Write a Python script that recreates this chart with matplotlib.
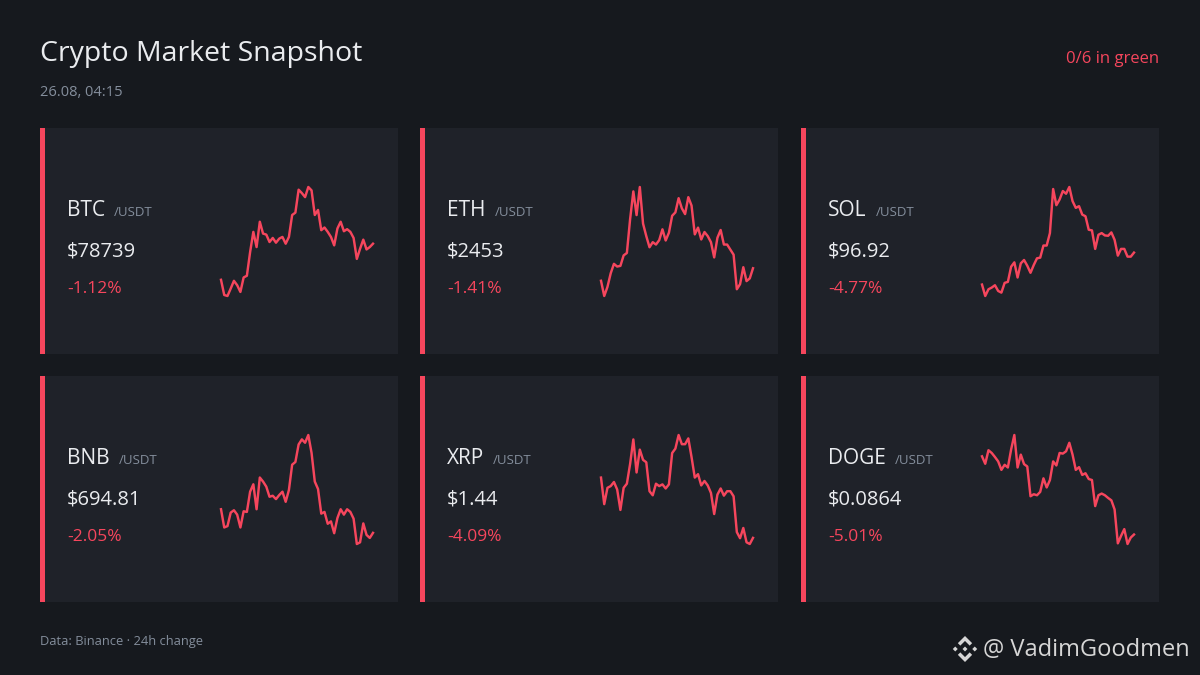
import matplotlib.pyplot as plt
from matplotlib.patches import Rectangle, Polygon

plt.rcParams['font.family'] = ['Open Sans', 'DejaVu Sans']

# canvas in pixels
W, H = 1200, 675
BG = '#16191e'
CARD = '#1f2229'
RED = '#f6465d'
GREEN = '#0ecb81'
WHITE = '#eaecef'
GREY = '#848e9c'

# data
symbols = ['BTC', 'ETH', 'SOL', 'BNB', 'XRP', 'DOGE']
prices = ['$78739', '$2453', '$96.92', '$694.81', '$1.44', '$0.0864']
changes = [-1.12, -1.41, -4.77, -2.05, -4.09, -5.01]
snapshot_time = '26.08, 04:15'

# 24h sparkline levels (relative units, higher = higher price)
btc_spark = [88, 43, 40, 62, 85, 72, 52, 95, 100, 170, 230, 185, 260, 225,
             222, 200, 212, 198, 210, 215, 195, 215, 280, 287, 355, 345,
             333, 363, 353, 280, 295, 235, 243, 230, 215, 190, 240, 260,
             232, 238, 230, 212, 150, 180, 207, 178, 185, 195]
eth_spark = [88, 43, 70, 110, 138, 130, 132, 163, 170, 270, 352, 282, 365, 257,
             220, 187, 202, 195, 208, 240, 207, 230, 280, 290, 332, 302,
             285, 335, 310, 225, 245, 210, 232, 220, 202, 157, 215, 238,
             195, 195, 180, 165, 63, 78, 128, 87, 95, 125]
sol_spark = [72, 38, 58, 63, 70, 53, 48, 77, 80, 125, 138, 93, 135, 145,
             128, 107, 130, 150, 152, 188, 188, 225, 356, 308, 325, 350,
             342, 362, 320, 300, 305, 280, 275, 235, 233, 178, 220, 225,
             218, 217, 227, 205, 158, 178, 178, 155, 155, 167]
bnb_spark = [148, 94, 98, 138, 145, 132, 94, 142, 140, 200, 222, 148, 242, 230,
             215, 185, 188, 178, 190, 200, 170, 205, 280, 288, 340, 355,
             345, 368, 315, 230, 208, 135, 140, 105, 112, 77, 122, 148,
             132, 148, 140, 120, 45, 50, 106, 72, 63, 78]
xrp_spark = [240, 162, 210, 215, 227, 205, 145, 210, 222, 280, 352, 255, 322, 292,
             285, 200, 188, 222, 215, 220, 208, 220, 312, 325, 365, 338,
             338, 355, 300, 240, 250, 217, 230, 217, 195, 133, 190, 208,
             187, 200, 200, 185, 80, 62, 92, 50, 45, 63]
doge_spark = [305, 283, 323, 315, 303, 290, 265, 280, 272, 325, 368, 272, 310, 282,
              275, 187, 193, 190, 200, 240, 213, 235, 290, 278, 315, 313,
              320, 345, 310, 265, 273, 250, 255, 238, 235, 158, 190, 195,
              190, 182, 175, 148, 48, 70, 90, 46, 65, 74]
sparks = [btc_spark, eth_spark, sol_spark, bnb_spark, xrp_spark, doge_spark]

# card grid (pixels from top-left)
col_left = [40, 420, 801]
row_top = [128, 376]
card_w, card_h = 358, 226


def fx(x):
    return x / W


def fy(y):
    return 1 - y / H


fig = plt.figure(figsize=(12, 6.75), dpi=100, facecolor=BG)
renderer = fig.canvas.get_renderer()

# header
fig.text(fx(40), fy(54.5), 'Crypto Market Snapshot', color=WHITE, fontsize=20.5,
         va='center', ha='left')
fig.text(fx(40), fy(92.5), snapshot_time, color=GREY, fontsize=10.5,
         va='center', ha='left')
n_green = sum(1 for c in changes if c > 0)
fig.text(fx(1159), fy(59), f'{n_green}/{len(changes)} in green',
         color=GREEN if n_green > len(changes) / 2 else RED, fontsize=12,
         va='center', ha='right')

for i, sym in enumerate(symbols):
    left = col_left[i % 3]
    top = row_top[i // 3]
    up = changes[i] > 0
    accent = GREEN if up else RED

    fig.add_artist(Rectangle((fx(left), fy(top + card_h)), card_w / W, card_h / H,
                             transform=fig.transFigure, facecolor=CARD,
                             edgecolor='none', zorder=0))
    fig.add_artist(Rectangle((fx(left), fy(top + card_h)), 5 / W, card_h / H,
                             transform=fig.transFigure, facecolor=accent,
                             edgecolor='none', zorder=1))

    t = fig.text(fx(left + 27), fy(top + 83), sym, color=WHITE, fontsize=15,
                 va='center', ha='left')
    bb = t.get_window_extent(renderer=renderer)
    fig.text((bb.x1 + 9) / W, fy(top + 84.5), '/USDT', color=GREY, fontsize=9.5,
             va='center', ha='left')
    fig.text(fx(left + 27), fy(top + 124), prices[i], color=WHITE, fontsize=14.5,
             va='center', ha='left')
    fig.text(fx(left + 27), fy(top + 161), f'{changes[i]:+.2f}%', color=accent,
             fontsize=12.5, va='center', ha='left')

    ax = fig.add_axes([fx(left + 181), fy(top + 168), 152 / W, 109 / H])
    vals = sparks[i]
    ax.plot(range(len(vals)), vals, color=accent, lw=1.75, solid_joinstyle='round',
            clip_on=False)
    ax.set_xlim(0, len(vals) - 1)
    ax.set_ylim(min(vals), max(vals))
    ax.axis('off')

# footer
fig.text(fx(40), fy(641.5), 'Data: Binance \u00b7 24h change', color=GREY,
         fontsize=9.3, va='center', ha='left')

# watermark: binance-style logo + handle
cx, cy, s = 965, 649, 13
logo_shapes = [
    [(0, 0.19), (0.19, 0), (0, -0.19), (-0.19, 0)],
    [(-0.75, 0.19), (-0.56, 0), (-0.75, -0.19), (-0.94, 0)],
    [(0.75, 0.19), (0.94, 0), (0.75, -0.19), (0.56, 0)],
    [(0, 1), (0.55, 0.45), (0.36, 0.26), (0, 0.62), (-0.36, 0.26), (-0.55, 0.45)],
    [(0, -1), (0.55, -0.45), (0.36, -0.26), (0, -0.62), (-0.36, -0.26), (-0.55, -0.45)],
]
for shape in logo_shapes:
    pts = [(fx(cx + px * s), fy(cy - py * s)) for px, py in shape]
    fig.add_artist(Polygon(pts, closed=True, transform=fig.transFigure,
                           facecolor='#d6d6d6', edgecolor='none'))
fig.text(fx(1190), fy(650), '@ VadimGoodmen', color='#d6d6d6', fontsize=17,
         va='center', ha='right')

fig.savefig('out.png', dpi=100, facecolor=BG)
